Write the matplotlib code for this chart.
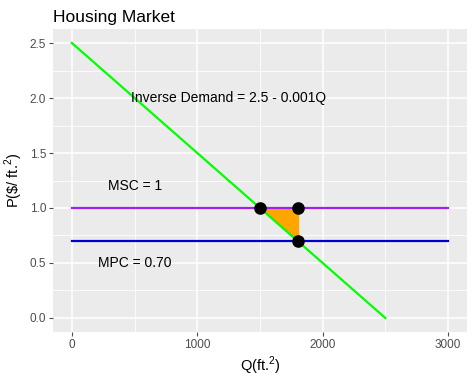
import matplotlib
matplotlib.use("Agg")
import matplotlib.pyplot as plt
import numpy as np

plt.rcParams["font.family"] = ["Liberation Sans", "DejaVu Sans"]
plt.rcParams["mathtext.fontset"] = "custom"
plt.rcParams["mathtext.rm"] = "Liberation Sans"

# inverse demand P = 2.5 - 0.001Q
demand_q = [0, 2500]
demand_p = [2.5, 0.0]

msc_q = [0, 3000]
msc_p = [1.0, 1.0]
mpc_q = [0, 3000]
mpc_p = [0.7, 0.7]

# deadweight-loss triangle and its corners
dwl_q = [1500, 1800, 1800]
dwl_p = [1.0, 1.0, 0.7]

labels = ["Inverse Demand = 2.5 - 0.001Q", "MSC = 1", "MPC = 0.70"]
label_q = [1250, 500, 500]
label_p = [2.0, 1.2, 0.5]

x_ticks = [0, 1000, 2000, 3000]
y_ticks = [0.0, 0.5, 1.0, 1.5, 2.0, 2.5]

fig = plt.figure(figsize=(4.74, 3.8), dpi=100)
ax = fig.add_axes([0.112, 0.127, 0.873, 0.796])
ax.set_facecolor("#EBEBEB")
for s in ax.spines.values():
    s.set_visible(False)

# ggplot-like grid
for v in x_ticks:
    ax.axvline(v, color="white", lw=1.1, zorder=0)
for v in [500, 1500, 2500]:
    ax.axvline(v, color="white", lw=0.55, zorder=0)
for v in y_ticks:
    ax.axhline(v, color="white", lw=1.1, zorder=0)
for v in [0.25, 0.75, 1.25, 1.75, 2.25]:
    ax.axhline(v, color="white", lw=0.55, zorder=0)

ax.fill(dwl_q, dwl_p, color="#FFA500", zorder=2)
ax.plot(demand_q, demand_p, color="#00FF00", lw=1.6, zorder=3)
ax.plot(msc_q, msc_p, color="#A020F0", lw=1.6, zorder=3)
ax.plot(mpc_q, mpc_p, color="#0000CD", lw=1.6, zorder=3)
ax.scatter(dwl_q, dwl_p, s=65, color="black", zorder=4)

for t, q, p in zip(labels, label_q, label_p):
    ax.text(q, p, t, ha="center", va="center", fontsize=10, color="black")

ax.set_xlim(-150, 3150)
ax.set_ylim(-0.125, 2.625)
ax.set_xticks(x_ticks)
ax.set_yticks(y_ticks)
ax.set_yticklabels([f"{v:.1f}" for v in y_ticks])
ax.tick_params(colors="#4D4D4D", labelsize=8.5, length=3, width=0.8, pad=2)

ax.set_xlabel(r"Q(ft.$^2$)", fontsize=10.5, labelpad=3)
ax.set_ylabel(r"P(\$/ ft.$^2$)", fontsize=10.5, labelpad=3)
fig.text(0.112, 0.955, "Housing Market", fontsize=12.5, ha="left", va="center")

fig.savefig("out.png", dpi=100)
